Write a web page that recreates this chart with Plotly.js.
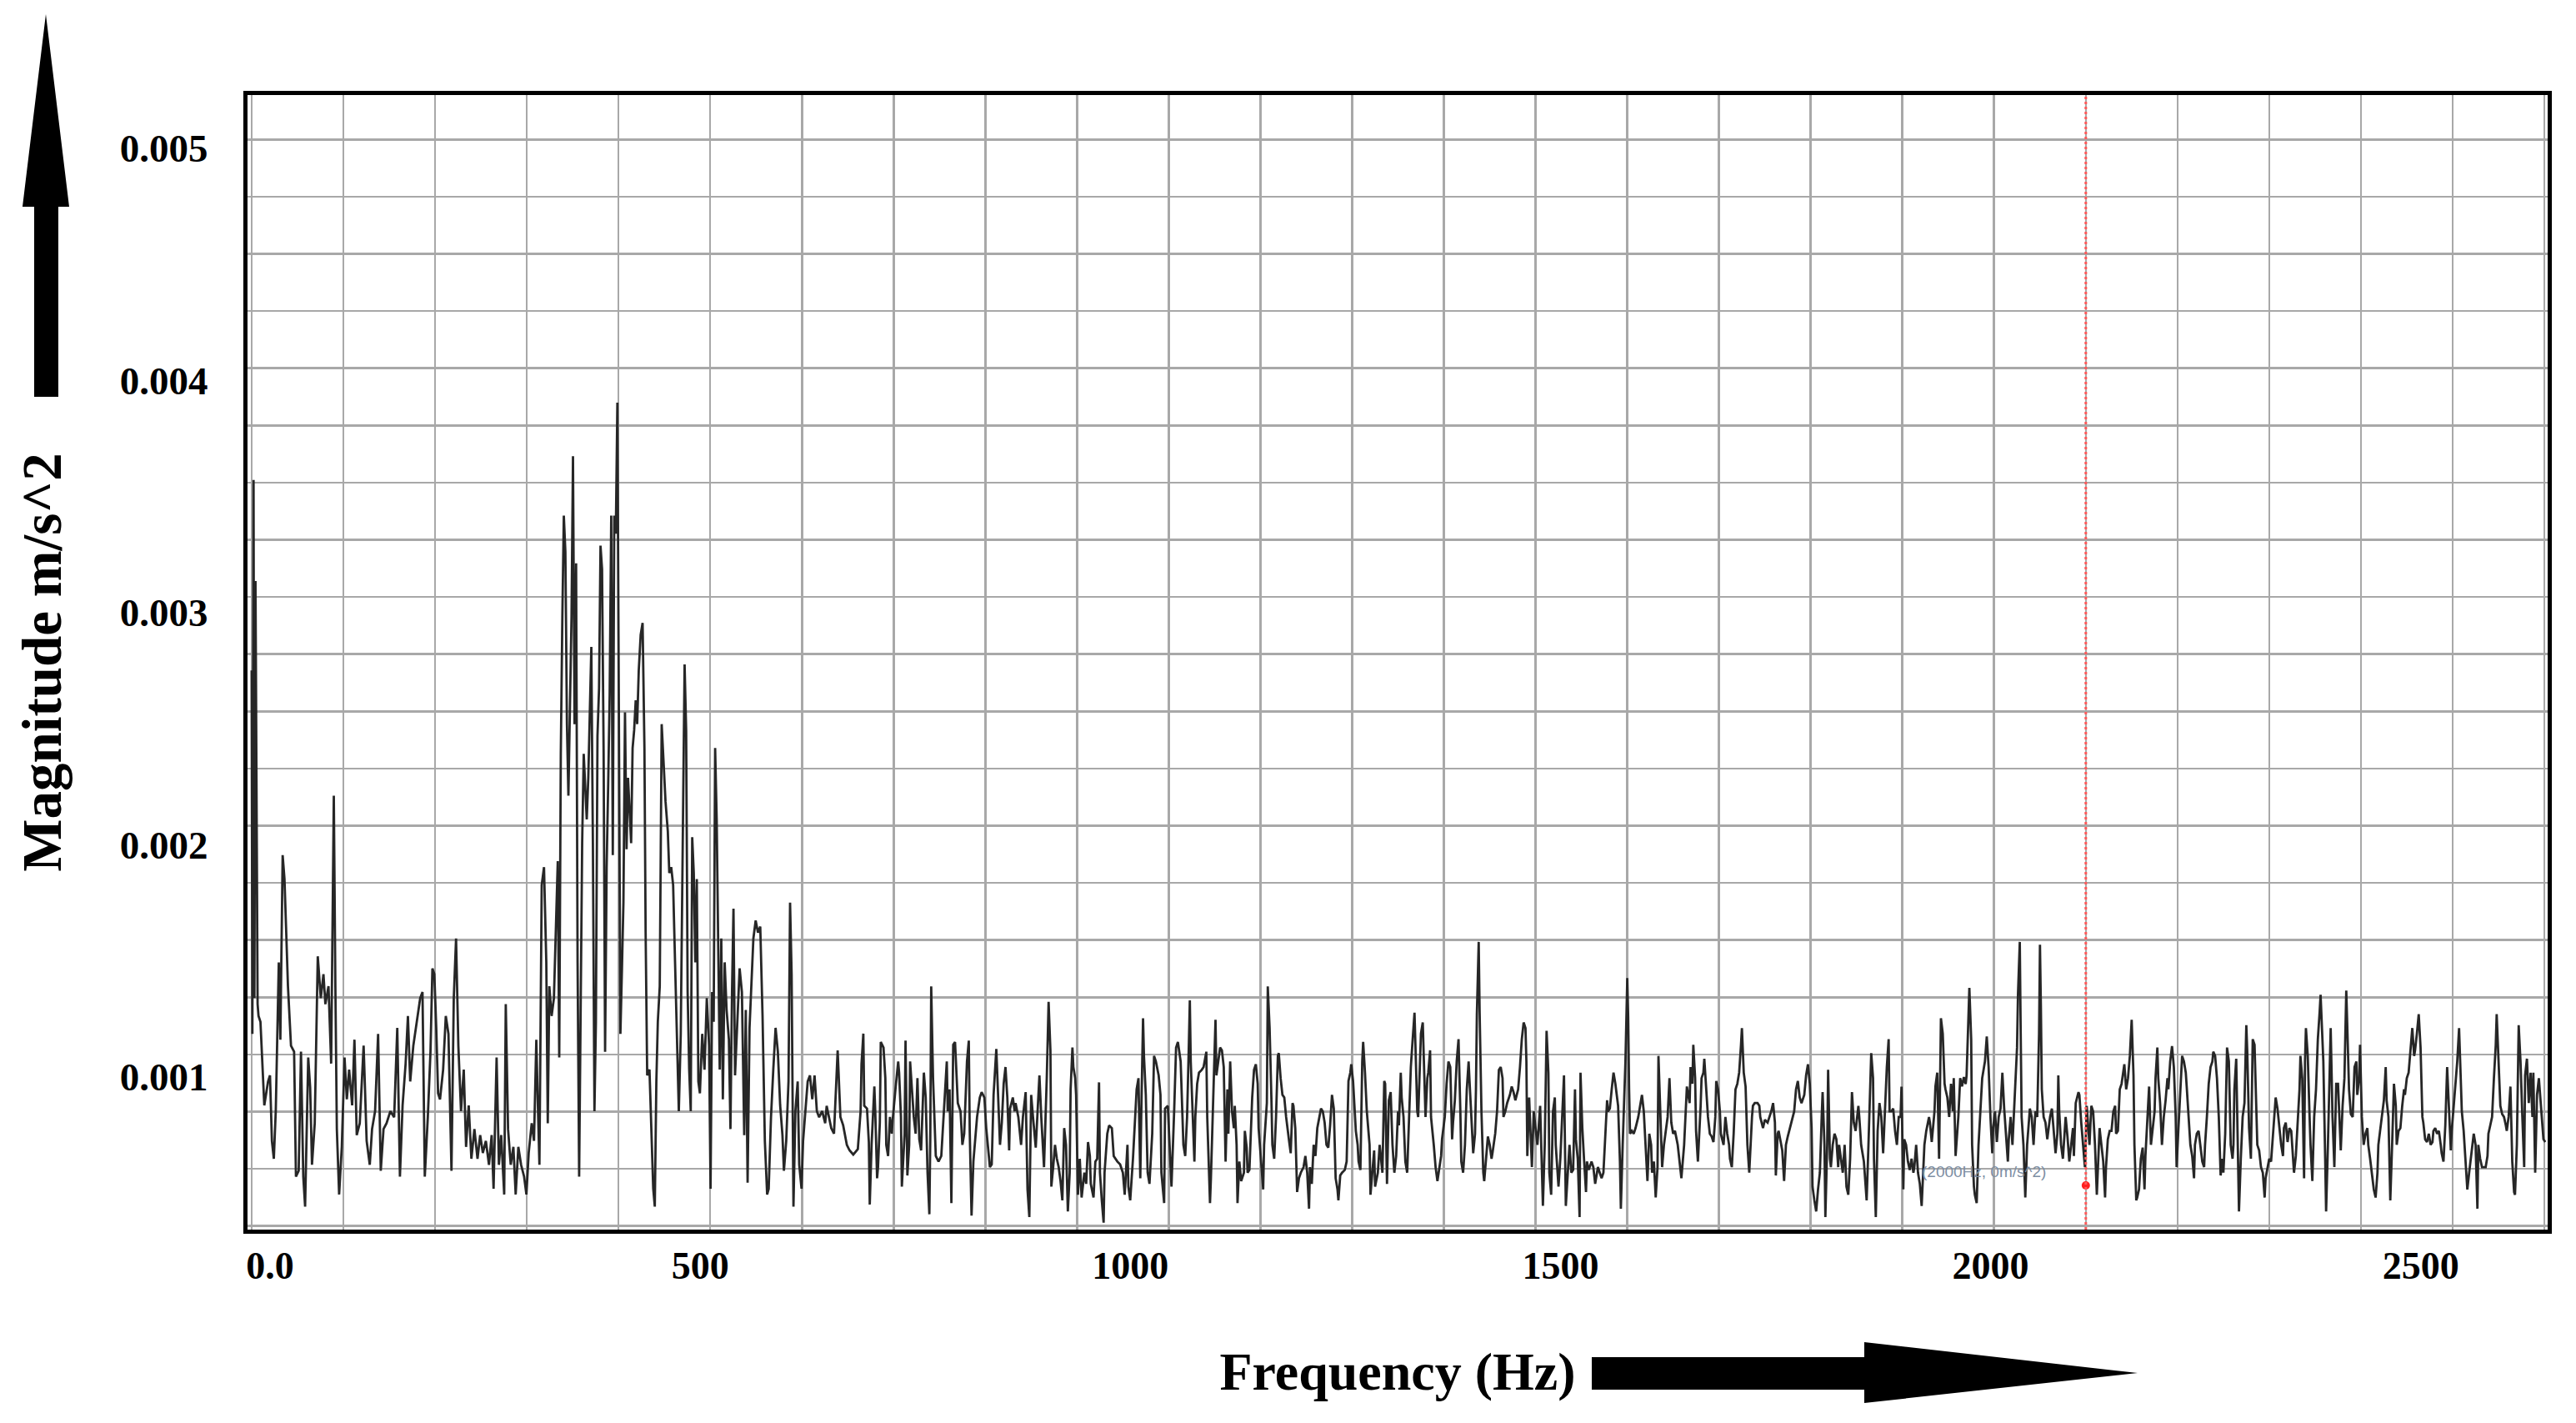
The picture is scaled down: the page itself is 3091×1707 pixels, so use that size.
<!DOCTYPE html>
<html><head><meta charset="utf-8">
<script src="https://cdn.plot.ly/plotly-3.0.1.min.js"></script>
<style>html,body{margin:0;padding:0;background:#fff}</style>
</head><body><div id="chart" style="width:3091px;height:1707px"></div>
<script>
// [frequency Hz, magnitude m/s^2]
const band0to625 = [[0,0.002751],[0.8,0.001186],[2.1,0.003572],[3.0,0.001340],[4.2,0.003136],[5.4,0.002289],[6.5,0.001314],[7.5,0.001263],[9.6,0.001238],[13.8,0.000878],[17.9,0.000981],[20.0,0.001007],[22.1,0.000725],[24.2,0.000648],[26.3,0.000853],[29.6,0.001494],[31.3,0.001161],[33.8,0.001956],[35.8,0.001853],[37.5,0.001648],[39.6,0.001391],[42.9,0.001135],[46.3,0.001109],[48.3,0.000571],[51.3,0.000596],[53.8,0.001109],[56.3,0.000571],[58.3,0.000442],[61.7,0.001084],[63.8,0.000955],[65.8,0.000622],[68.8,0.000801],[72.1,0.001520],[75.4,0.001340],[78.3,0.001443],[80.4,0.001314],[83.8,0.001391],[86.7,0.001058],[89.6,0.002212],[91.3,0.001391],[92.9,0.000776],[95.4,0.000494],[98.3,0.000699],[101.3,0.001084],[103.8,0.000904],[106.3,0.001032],[109.6,0.000878],[112.1,0.001161],[114.6,0.000750],[117.9,0.000801],[122.1,0.001135],[125.4,0.000725],[128.8,0.000622],[131.3,0.000776],[134.6,0.000853],[137.9,0.001186],[140.8,0.000596],[143.8,0.000776],[147.1,0.000801],[151.3,0.000853],[155.4,0.000827],[158.8,0.001212],[161.7,0.000571],[164.6,0.000878],[167.9,0.001058],[170.4,0.001263],[172.9,0.000981],[176.3,0.001135],[180.4,0.001238],[183.8,0.001340],[186.3,0.001366],[188.8,0.000571],[192.1,0.000827],[195.0,0.001109],[197.1,0.001468],[199.2,0.001443],[201.3,0.001212],[203.3,0.000930],[205.4,0.000904],[208.8,0.001032],[211.7,0.001263],[214.6,0.001186],[217.9,0.000596],[220.4,0.001340],[222.9,0.001597],[225.4,0.001135],[228.3,0.000853],[231.3,0.001032],[233.8,0.000699],[236.7,0.000878],[239.6,0.000648],[242.9,0.000776],[246.3,0.000648],[249.2,0.000750],[252.1,0.000673],[255.4,0.000725],[258.8,0.000622],[261.7,0.000750],[263.8,0.000519],[267.1,0.001084],[269.6,0.000622],[272.1,0.000750],[275.4,0.000494],[277.1,0.001314],[279.6,0.000776],[282.5,0.000622],[285.4,0.000699],[287.9,0.000494],[290.8,0.000699],[293.8,0.000622],[297.1,0.000571],[299.6,0.000494],[302.1,0.000673],[305.4,0.000801],[307.9,0.000725],[310.4,0.001161],[312.1,0.000878],[313.8,0.000622],[316.3,0.001827],[318.8,0.001904],[321.3,0.001494],[322.9,0.000801],[324.6,0.001391],[327.1,0.001263],[329.6,0.001340],[332.1,0.001699],[333.8,0.001930],[335.4,0.001084],[337.1,0.002392],[338.8,0.002982],[340.4,0.003418],[342.1,0.003264],[343.8,0.002520],[345.4,0.002212],[347.1,0.002648],[348.8,0.002982],[350.4,0.003674],[352.1,0.002520],[353.8,0.003213],[355.4,0.001494],[357.1,0.000571],[358.8,0.001238],[360.4,0.002007],[362.1,0.002392],[363.8,0.002264],[365.4,0.002110],[367.1,0.002289],[368.8,0.002623],[370.4,0.002853],[372.1,0.002007],[373.8,0.000853],[375.4,0.001238],[377.1,0.002469],[378.8,0.002674],[380.4,0.003289],[382.1,0.003187],[383.8,0.002392],[385.4,0.001109],[387.1,0.001904],[388.8,0.002264],[390.4,0.002648],[392.1,0.003418],[393.8,0.001956],[395.4,0.003418],[397.1,0.003341],[398.8,0.003905],[400.4,0.002264],[402.1,0.001186],[403.8,0.001468],[405.4,0.001751],[407.1,0.002571],[408.8,0.001981],[410.4,0.002289],[412.1,0.002135],[413.8,0.002007],[415.4,0.002417],[417.1,0.002494],[418.8,0.002623],[420.4,0.002520],[422.1,0.002751],[424.2,0.002905],[426.3,0.002956],[428.3,0.002417],[429.6,0.001622],[431.3,0.001007],[433.8,0.001032],[436.3,0.000699],[437.9,0.000519],[439.6,0.000442],[441.3,0.000981],[442.9,0.001238],[445.0,0.001391],[447.1,0.002520],[449.2,0.002366],[451.3,0.002187],[453.8,0.002058],[455.4,0.001879],[457.5,0.001904],[459.6,0.001827],[461.7,0.001494],[463.8,0.001109],[465.8,0.000853],[467.9,0.001186],[470.0,0.001930],[472.1,0.002777],[473.8,0.002494],[475.4,0.001366],[477.1,0.001032],[478.8,0.000853],[480.4,0.002033],[482.1,0.001879],[483.8,0.001494],[485.4,0.001853],[487.1,0.000981],[488.8,0.000930],[491.3,0.001186],[493.8,0.001032],[496.3,0.001340],[498.8,0.001135],[500.4,0.000519],[502.1,0.001366],[503.8,0.001238],[505.4,0.002417],[507.1,0.002110],[508.8,0.001545],[510.4,0.001032],[512.1,0.001597],[513.8,0.000904],[515.8,0.001494],[517.9,0.001289],[520.4,0.001161],[522.1,0.000776],[523.8,0.001366],[525.4,0.001725],[527.1,0.001007],[529.6,0.001238],[532.1,0.001468],[534.6,0.001366],[537.1,0.000750],[538.8,0.001289],[540.8,0.000545],[542.9,0.001212],[545.0,0.001391],[547.1,0.001597],[549.6,0.001674],[552.1,0.001622],[554.6,0.001648],[557.1,0.001263],[559.6,0.000725],[562.1,0.000494],[563.8,0.000519],[566.3,0.000827],[568.8,0.001032],[571.3,0.001212],[573.8,0.001109],[576.3,0.000878],[578.8,0.000750],[580.4,0.000596],[582.9,0.000725],[585.4,0.000981],[587.1,0.001751],[588.8,0.001443],[590.8,0.000442],[592.9,0.000853],[595.4,0.000981],[597.1,0.000622],[599.6,0.000519],[601.3,0.000725],[603.8,0.000853],[606.3,0.000981],[608.8,0.001007],[611.3,0.000904],[613.8,0.001007],[616.3,0.000853],[618.8,0.000827],[622.1,0.000853],[625.4,0.000801]];

const band627to1010 = [[627,0.000876],[632,0.000780],[635,0.000756],[639,0.001115],[640,0.001019],[642,0.000828],[645,0.000792],[649,0.000708],[652,0.000684],[656,0.000666],[661,0.000690],[664,0.000852],[665,0.001055],[667,0.001187],[668,0.000876],[671,0.000864],[673,0.000720],[674,0.000451],[676,0.000708],[679,0.000959],[680,0.000852],[682,0.000564],[683,0.000612],[685,0.000804],[686,0.001151],[689,0.001127],[691,0.000995],[692,0.000708],[694,0.000660],[696,0.000828],[698,0.000756],[699,0.000816],[702,0.000947],[705,0.001067],[706,0.001019],[708,0.000828],[709,0.000528],[712,0.000756],[713,0.001157],[715,0.000576],[717,0.000708],[718,0.001067],[720,0.000947],[722,0.000828],[724,0.000756],[726,0.000995],[728,0.000732],[730,0.000684],[733,0.001019],[735,0.000912],[737,0.000588],[739,0.000409],[740,0.000732],[741,0.001390],[743,0.000995],[746,0.000660],[749,0.000636],[752,0.000660],[755,0.000864],[758,0.001067],[759,0.000852],[761,0.000947],[763,0.000457],[765,0.001139],[767,0.001151],[768,0.001067],[770,0.000888],[773,0.000852],[775,0.000708],[777,0.000756],[780,0.001067],[782,0.001157],[783,0.000768],[785,0.000403],[787,0.000636],[791,0.000828],[794,0.000912],[796,0.000935],[799,0.000912],[801,0.000780],[803,0.000696],[805,0.000612],[807,0.000624],[809,0.000923],[812,0.001121],[814,0.000876],[816,0.000708],[818,0.000804],[820,0.000971],[822,0.001043],[824,0.000912],[826,0.000684],[827,0.000864],[830,0.000912],[832,0.000852],[833,0.000888],[836,0.000828],[839,0.000708],[841,0.000828],[844,0.000935],[846,0.000516],[848,0.000397],[850,0.000923],[852,0.000828],[855,0.000696],[857,0.000852],[859,0.001007],[861,0.000828],[864,0.000612],[867,0.000995],[869,0.001324],[871,0.001115],[872,0.000528],[874,0.000612],[876,0.000708],[878,0.000648],[880,0.000612],[882,0.000552],[884,0.000469],[886,0.000780],[888,0.000708],[890,0.000421],[892,0.000588],[893,0.000947],[895,0.001127],[896,0.001043],[898,0.000995],[899,0.000923],[901,0.000493],[903,0.000648],[905,0.000481],[908,0.000588],[910,0.000540],[912,0.000720],[914,0.000660],[915,0.000540],[918,0.000481],[920,0.000636],[922,0.000648],[924,0.000977],[925,0.000588],[927,0.000469],[929,0.000373],[930,0.000588],[933,0.000756],[935,0.000792],[938,0.000780],[940,0.000660],[944,0.000636],[947,0.000624],[950,0.000588],[952,0.000493],[955,0.000708],[956,0.000528],[958,0.000469],[961,0.000648],[963,0.000828],[965,0.000947],[967,0.000995],[969,0.000564],[970,0.000828],[972,0.001253],[973,0.001091],[975,0.000923],[977,0.000588],[979,0.000540],[982,0.000756],[984,0.001091],[986,0.001067],[989,0.001007],[991,0.000923],[992,0.000588],[995,0.000457],[996,0.000864],[999,0.000876],[1001,0.000708],[1003,0.000528],[1006,0.000864],[1008,0.001127],[1010,0.001151]];

const band1013to1393 = [[1013,0.001067],[1015,0.000828],[1016,0.000708],[1018,0.000660],[1020,0.000828],[1022,0.001151],[1023,0.001330],[1024,0.001067],[1026,0.000864],[1028,0.000636],[1029,0.000828],[1031,0.000971],[1033,0.001019],[1036,0.001031],[1038,0.001043],[1041,0.001109],[1042,0.000828],[1044,0.000588],[1045,0.000457],[1046,0.000564],[1048,0.000828],[1050,0.001067],[1051,0.001247],[1052,0.001007],[1054,0.001067],[1056,0.001127],[1058,0.001115],[1060,0.001043],[1062,0.000636],[1064,0.000947],[1065,0.000756],[1067,0.001067],[1069,0.000852],[1071,0.000780],[1072,0.000876],[1074,0.000708],[1075,0.000457],[1077,0.000636],[1079,0.000552],[1082,0.000588],[1083,0.000768],[1085,0.000696],[1086,0.000588],[1088,0.000600],[1091,0.000912],[1093,0.001031],[1095,0.001055],[1097,0.000971],[1098,0.000780],[1101,0.000636],[1103,0.000516],[1104,0.000708],[1107,0.000888],[1108,0.001390],[1110,0.001211],[1112,0.000900],[1113,0.000708],[1115,0.000648],[1117,0.000828],[1119,0.001091],[1120,0.001103],[1122,0.000995],[1124,0.000923],[1126,0.000912],[1128,0.000828],[1131,0.000732],[1133,0.000672],[1135,0.000888],[1136,0.000876],[1138,0.000780],[1140,0.000505],[1142,0.000564],[1144,0.000588],[1147,0.000612],[1149,0.000660],[1151,0.000588],[1153,0.000433],[1154,0.000612],[1156,0.000540],[1158,0.000708],[1160,0.000660],[1162,0.000780],[1164,0.000828],[1166,0.000864],[1168,0.000852],[1170,0.000804],[1172,0.000708],[1174,0.000696],[1176,0.000792],[1178,0.000923],[1180,0.000864],[1182,0.000564],[1184,0.000516],[1185,0.000469],[1187,0.000576],[1189,0.000588],[1192,0.000600],[1194,0.000636],[1196,0.000983],[1198,0.001019],[1199,0.001055],[1201,0.000983],[1204,0.000768],[1206,0.000708],[1207,0.000636],[1209,0.000600],[1211,0.001067],[1212,0.001151],[1214,0.001019],[1216,0.000852],[1219,0.000708],[1220,0.000493],[1222,0.000588],[1224,0.000684],[1225,0.000528],[1228,0.000588],[1230,0.000708],[1233,0.000588],[1235,0.000983],[1236,0.000971],[1238,0.000540],[1240,0.000900],[1242,0.000935],[1244,0.000708],[1246,0.000588],[1248,0.000660],[1250,0.000852],[1251,0.000792],[1253,0.001019],[1254,0.000912],[1256,0.000828],[1258,0.000636],[1260,0.000588],[1262,0.000828],[1264,0.001043],[1266,0.001163],[1268,0.001277],[1269,0.001139],[1271,0.000852],[1272,0.000828],[1274,0.001043],[1275,0.001187],[1277,0.001235],[1278,0.001115],[1280,0.000828],[1282,0.000995],[1283,0.001019],[1285,0.001115],[1286,0.000828],[1289,0.000708],[1291,0.000612],[1293,0.000552],[1295,0.000600],[1297,0.000660],[1298,0.000732],[1301,0.000828],[1303,0.000971],[1305,0.001067],[1307,0.001043],[1309,0.000732],[1310,0.000804],[1312,0.000900],[1314,0.001067],[1316,0.001163],[1318,0.000852],[1319,0.000636],[1321,0.000588],[1323,0.000708],[1325,0.000947],[1327,0.001067],[1328,0.000983],[1330,0.000828],[1332,0.000672],[1334,0.000756],[1335,0.000947],[1336,0.001271],[1338,0.001582],[1339,0.001283],[1341,0.000852],[1343,0.000588],[1344,0.000552],[1346,0.000648],[1348,0.000744],[1350,0.000708],[1352,0.000648],[1353,0.000672],[1356,0.000756],[1358,0.000852],[1360,0.001031],[1362,0.001043],[1364,0.000995],[1365,0.000828],[1367,0.000852],[1369,0.000888],[1372,0.000923],[1374,0.000959],[1376,0.000935],[1378,0.000900],[1381,0.000947],[1383,0.001043],[1385,0.001163],[1387,0.001235],[1389,0.001211],[1390,0.001067],[1391,0.000660],[1393,0.000912]];

const band1395to1777 = [[1395,0.000708],[1396,0.000612],[1398,0.000852],[1400,0.000780],[1402,0.000708],[1405,0.000876],[1407,0.000552],[1408,0.000445],[1410,0.000708],[1411,0.001007],[1412,0.001199],[1414,0.001019],[1415,0.000588],[1417,0.000493],[1419,0.000852],[1421,0.000912],[1422,0.000708],[1424,0.000588],[1425,0.000528],[1427,0.000648],[1429,0.000828],[1431,0.001007],[1433,0.000445],[1435,0.000588],[1437,0.000708],[1439,0.000588],[1441,0.000600],[1443,0.000947],[1444,0.000732],[1446,0.000648],[1448,0.000397],[1449,0.001019],[1451,0.000780],[1453,0.000636],[1455,0.000505],[1456,0.000636],[1458,0.000600],[1461,0.000636],[1463,0.000612],[1465,0.000540],[1468,0.000612],[1470,0.000588],[1472,0.000564],[1474,0.000588],[1476,0.000768],[1478,0.000900],[1479,0.000852],[1481,0.000864],[1483,0.000947],[1485,0.001019],[1487,0.000971],[1490,0.000876],[1492,0.000636],[1493,0.000433],[1495,0.000708],[1497,0.000912],[1498,0.001067],[1500,0.001426],[1501,0.001259],[1502,0.000947],[1503,0.000756],[1505,0.000768],[1507,0.000756],[1509,0.000780],[1512,0.000828],[1514,0.000876],[1516,0.000923],[1518,0.000852],[1520,0.000708],[1522,0.000552],[1524,0.000756],[1526,0.000708],[1527,0.000588],[1529,0.000636],[1531,0.000481],[1533,0.000612],[1534,0.001091],[1536,0.000828],[1538,0.000612],[1540,0.000708],[1542,0.000768],[1544,0.000828],[1546,0.000995],[1547,0.000923],[1548,0.000804],[1550,0.000756],[1552,0.000768],[1555,0.000708],[1557,0.000636],[1559,0.000564],[1562,0.000708],[1564,0.000852],[1565,0.000959],[1568,0.000888],[1569,0.001043],[1571,0.000971],[1572,0.001139],[1574,0.000995],[1575,0.000768],[1577,0.000636],[1578,0.000708],[1580,0.000876],[1581,0.000995],[1583,0.001019],[1584,0.001079],[1586,0.000947],[1588,0.000828],[1590,0.000756],[1592,0.000744],[1594,0.000720],[1596,0.000828],[1597,0.000983],[1599,0.000947],[1601,0.000852],[1602,0.000756],[1605,0.000708],[1607,0.000828],[1609,0.000756],[1611,0.000708],[1612,0.000648],[1614,0.000612],[1616,0.000756],[1618,0.000947],[1620,0.000971],[1622,0.001019],[1624,0.001139],[1625,0.001211],[1627,0.001019],[1629,0.000959],[1631,0.000708],[1633,0.000588],[1636,0.000828],[1637,0.000876],[1639,0.000888],[1642,0.000888],[1644,0.000876],[1645,0.000828],[1648,0.000780],[1650,0.000816],[1653,0.000804],[1655,0.000828],[1657,0.000852],[1659,0.000888],[1661,0.000804],[1662,0.000576],[1664,0.000756],[1665,0.000768],[1667,0.000720],[1669,0.000684],[1671,0.000552],[1673,0.000708],[1675,0.000744],[1678,0.000792],[1680,0.000828],[1682,0.000852],[1684,0.000947],[1686,0.000983],[1688,0.000912],[1690,0.000888],[1693,0.000923],[1695,0.001007],[1697,0.001055],[1699,0.000971],[1701,0.000780],[1702,0.000528],[1704,0.000469],[1706,0.000421],[1708,0.000516],[1710,0.000588],[1712,0.000828],[1713,0.000935],[1715,0.000708],[1716,0.000397],[1718,0.000708],[1719,0.001031],[1721,0.000648],[1722,0.000612],[1724,0.000708],[1726,0.000756],[1728,0.000732],[1730,0.000612],[1731,0.000708],[1733,0.000636],[1735,0.000588],[1737,0.000708],[1739,0.000528],[1741,0.000493],[1743,0.000648],[1745,0.000935],[1747,0.000804],[1749,0.000768],[1752,0.000876],[1753,0.000828],[1755,0.000708],[1758,0.000636],[1759,0.000588],[1761,0.000469],[1763,0.000708],[1765,0.000995],[1766,0.001103],[1768,0.000995],[1769,0.000648],[1771,0.000397],[1773,0.000768],[1775,0.000888],[1777,0.000828]];

const band1779to2160 = [[1779,0.000672],[1781,0.000888],[1783,0.001043],[1785,0.001163],[1786,0.000852],[1788,0.000852],[1790,0.000864],[1792,0.000768],[1794,0.000708],[1796,0.000828],[1798,0.000828],[1799,0.000959],[1801,0.000516],[1802,0.000732],[1804,0.000708],[1806,0.000636],[1808,0.000600],[1810,0.000648],[1812,0.000588],[1813,0.000612],[1815,0.000708],[1817,0.000588],[1819,0.000540],[1821,0.000445],[1822,0.000552],[1824,0.000708],[1826,0.000768],[1829,0.000828],[1830,0.000804],[1832,0.000720],[1835,0.000852],[1836,0.000959],[1838,0.001019],[1840,0.000648],[1841,0.000947],[1842,0.001253],[1844,0.001187],[1846,0.000971],[1847,0.000947],[1849,0.000912],[1851,0.000828],[1853,0.000971],[1855,0.000852],[1856,0.000995],[1858,0.000660],[1860,0.000768],[1861,0.000828],[1863,0.000995],[1865,0.000960],[1867,0.001000],[1869,0.000970],[1870,0.001007],[1872,0.001283],[1873,0.001384],[1875,0.001163],[1876,0.000708],[1878,0.000528],[1879,0.000493],[1881,0.000457],[1883,0.000708],[1885,0.000852],[1887,0.000995],[1889,0.001043],[1890,0.001067],[1892,0.001175],[1894,0.001043],[1896,0.000828],[1898,0.000672],[1899,0.000780],[1901,0.000852],[1903,0.000720],[1905,0.000828],[1907,0.000864],[1909,0.001019],[1911,0.000864],[1913,0.000756],[1915,0.000636],[1916,0.000732],[1918,0.000828],[1920,0.000708],[1922,0.000888],[1923,0.000971],[1925,0.001127],[1926,0.001354],[1928,0.001582],[1929,0.001187],[1930,0.000828],[1932,0.000708],[1934,0.000481],[1936,0.000708],[1938,0.000828],[1939,0.000864],[1941,0.000828],[1943,0.000708],[1945,0.000852],[1947,0.000828],[1949,0.001187],[1950,0.001570],[1951,0.001306],[1952,0.000947],[1954,0.000828],[1956,0.000804],[1958,0.000732],[1959,0.000768],[1961,0.000828],[1963,0.000864],[1965,0.000780],[1967,0.000672],[1969,0.000756],[1970,0.001007],[1971,0.000852],[1973,0.000708],[1975,0.000648],[1976,0.000720],[1978,0.000828],[1980,0.000744],[1982,0.000636],[1984,0.000708],[1986,0.000780],[1987,0.000660],[1989,0.000888],[1992,0.000935],[1993,0.000923],[1995,0.000804],[1997,0.000708],[1999,0.000612],[2001,0.000876],[2002,0.000828],[2004,0.000708],[2006,0.000876],[2008,0.000852],[2010,0.000708],[2012,0.000493],[2013,0.000588],[2015,0.000780],[2017,0.000708],[2019,0.000636],[2021,0.000481],[2022,0.000612],[2024,0.000732],[2026,0.000768],[2028,0.000768],[2030,0.000852],[2032,0.000876],[2033,0.000756],[2035,0.000768],[2037,0.000947],[2039,0.000971],[2041,0.001043],[2042,0.001055],[2044,0.000947],[2046,0.000995],[2048,0.001091],[2050,0.001247],[2052,0.001007],[2053,0.000708],[2055,0.000469],[2056,0.000481],[2058,0.000516],[2060,0.000648],[2062,0.000696],[2064,0.000516],[2065,0.000660],[2067,0.000828],[2069,0.000959],[2071,0.000708],[2073,0.000792],[2075,0.000852],[2076,0.000995],[2078,0.001127],[2079,0.000995],[2081,0.000888],[2083,0.000708],[2085,0.000828],[2087,0.000900],[2089,0.000995],[2090,0.000947],[2092,0.001067],[2094,0.001133],[2096,0.001043],[2098,0.000828],[2099,0.000612],[2101,0.000780],[2103,0.000947],[2105,0.001091],[2107,0.001067],[2109,0.001019],[2110,0.000959],[2112,0.000828],[2114,0.000708],[2116,0.000660],[2118,0.000564],[2119,0.000708],[2121,0.000756],[2123,0.000768],[2125,0.000708],[2127,0.000636],[2129,0.000612],[2130,0.000708],[2132,0.000828],[2134,0.000971],[2136,0.001043],[2138,0.001067],[2139,0.001109],[2141,0.001091],[2143,0.000995],[2145,0.000828],[2147,0.000576],[2149,0.000648],[2150,0.000588],[2152,0.000756],[2154,0.001127],[2156,0.001067],[2158,0.000708],[2160,0.000648]];

const band2161to2501 = [[2161,0.000708],[2162,0.000947],[2164,0.001079],[2166,0.000708],[2167,0.000421],[2169,0.000648],[2171,0.000828],[2173,0.000888],[2175,0.001223],[2176,0.001115],[2178,0.000780],[2180,0.000648],[2182,0.001163],[2184,0.001139],[2185,0.001019],[2187,0.000708],[2189,0.000684],[2191,0.000612],[2193,0.000588],[2195,0.000481],[2196,0.000564],[2198,0.000600],[2200,0.000648],[2202,0.000636],[2204,0.000756],[2205,0.000828],[2207,0.000912],[2209,0.000864],[2211,0.000780],[2213,0.000708],[2215,0.000660],[2216,0.000780],[2218,0.000804],[2220,0.000720],[2222,0.000780],[2224,0.000768],[2225,0.000708],[2227,0.000588],[2229,0.000660],[2231,0.000828],[2233,0.000947],[2234,0.001091],[2236,0.000995],[2238,0.000564],[2239,0.001067],[2240,0.001211],[2242,0.001091],[2244,0.000828],[2245,0.000708],[2247,0.000552],[2249,0.000828],[2251,0.000947],[2253,0.001163],[2255,0.001283],[2256,0.001354],[2257,0.001259],[2259,0.001067],[2261,0.000648],[2262,0.000421],[2264,0.000708],[2266,0.000995],[2267,0.001211],[2269,0.000828],[2271,0.000612],[2273,0.000971],[2275,0.000971],[2276,0.000876],[2278,0.000684],[2280,0.000876],[2282,0.000995],[2283,0.001187],[2284,0.001372],[2285,0.001235],[2287,0.000947],[2289,0.000840],[2291,0.000828],[2293,0.001043],[2295,0.001067],[2296,0.000923],[2298,0.000995],[2299,0.001139],[2301,0.000828],[2303,0.000708],[2305,0.000756],[2307,0.000780],[2308,0.000708],[2310,0.000648],[2312,0.000588],[2314,0.000516],[2316,0.000481],[2318,0.000588],[2319,0.000708],[2321,0.000780],[2323,0.000828],[2325,0.000900],[2327,0.001043],[2328,0.000900],[2330,0.000828],[2332,0.000469],[2334,0.000708],[2336,0.000971],[2338,0.000876],[2339,0.000708],[2341,0.000768],[2343,0.000780],[2345,0.000876],[2347,0.000947],[2348,0.000923],[2350,0.000995],[2352,0.001019],[2354,0.001127],[2356,0.001211],[2358,0.001091],[2359,0.001115],[2361,0.001187],[2363,0.001271],[2365,0.001127],[2367,0.000828],[2368,0.000804],[2370,0.000732],[2372,0.000720],[2374,0.000756],[2376,0.000708],[2378,0.000720],[2379,0.000768],[2381,0.000780],[2383,0.000756],[2385,0.000768],[2387,0.000708],[2388,0.000672],[2390,0.000636],[2392,0.000792],[2394,0.001043],[2396,0.000876],[2398,0.000684],[2399,0.000768],[2401,0.000864],[2403,0.000971],[2405,0.001067],[2407,0.001211],[2408,0.001067],[2410,0.000852],[2412,0.000768],[2414,0.000636],[2416,0.000516],[2418,0.000588],[2419,0.000624],[2421,0.000708],[2423,0.000756],[2425,0.000708],[2427,0.000433],[2428,0.000708],[2430,0.000648],[2432,0.000612],[2434,0.000612],[2436,0.000612],[2438,0.000660],[2439,0.000756],[2441,0.000792],[2443,0.000828],[2445,0.000995],[2447,0.001139],[2448,0.001271],[2450,0.001067],[2452,0.000876],[2454,0.000840],[2456,0.000828],[2458,0.000792],[2459,0.000768],[2461,0.000828],[2463,0.000959],[2465,0.000636],[2467,0.000505],[2468,0.000493],[2470,0.000708],[2472,0.001223],[2474,0.001067],[2476,0.000828],[2478,0.000612],[2479,0.001007],[2481,0.001079],[2483,0.000888],[2485,0.001019],[2487,0.000828],[2488,0.001019],[2490,0.000588],[2492,0.000923],[2494,0.000995],[2496,0.000876],[2498,0.000768],[2499,0.000732],[2501,0.000720]];

const xTickValues = [0, 500, 1000, 1500, 2000, 2500];
const xTickLabels = ['0.0', '500', '1000', '1500', '2000', '2500'];
const yTickValues = [0.001, 0.002, 0.003, 0.004, 0.005];
const yTickLabels = ['0.001', '0.002', '0.003', '0.004', '0.005'];
const cursorFreq = [2000];
const cursorMag = [0.000533];
const cursorLabel = '(2000Hz, 0m/s^2)';

const spectrum = band0to625.concat(band627to1010, band1013to1393, band1395to1777, band1779to2160, band2161to2501);
const freqHz = spectrum.map(p => p[0]);
const magnitude = spectrum.map(p => p[1]);

const serif = 'Liberation Serif, Times New Roman, serif';

const traces = [
  {
    type: 'scatter', mode: 'lines', x: freqHz, y: magnitude,
    line: {color: '#262626', width: 2.8},
    hoverinfo: 'x+y', showlegend: false
  },
  {
    type: 'scatter', mode: 'markers', x: cursorFreq, y: cursorMag,
    marker: {color: '#ff2020', size: 10},
    hoverinfo: 'skip', showlegend: false
  },
  {
    type: 'scatter', mode: 'lines', x: [], y: [], xaxis: 'x2', yaxis: 'y2',
    hoverinfo: 'skip', showlegend: false
  }
];

const layout = {
  width: 3091, height: 1707,
  margin: {l: 297, r: 34, t: 114, b: 232, pad: 0},
  paper_bgcolor: '#ffffff', plot_bgcolor: '#ffffff',
  showlegend: false,
  xaxis: {
    range: [-4.5, 2503.6], autorange: false,
    showgrid: true, gridcolor: '#a8a8a8', gridwidth: 2.6, dtick: 100, tick0: 0,
    showticklabels: false, ticks: '', zeroline: false,
    showline: true, mirror: true, linecolor: '#000000', linewidth: 5,
    automargin: true,
    title: {text: 'Frequency (Hz)', standoff: 145,
            font: {family: serif, size: 64, color: '#000000', weight: 'bold'}}
  },
  xaxis2: {
    overlaying: 'x', anchor: 'y', side: 'bottom',
    range: [-26.16, 2647.5], autorange: false,
    tickmode: 'array', tickvals: xTickValues, ticktext: xTickLabels,
    showgrid: false, zeroline: false, showline: false, ticks: '',
    ticklabelstandoff: 12,
    tickfont: {family: serif, size: 46, color: '#000000', weight: 'bold'}
  },
  yaxis: {
    range: [0.0003429, 0.0052298], autorange: false,
    tickmode: 'array', tickvals: yTickValues, ticktext: yTickLabels,
    showgrid: false, zeroline: false, ticks: '',
    showline: true, mirror: true, linecolor: '#000000', linewidth: 5,
    ticklabelstandoff: 33,
    tickfont: {family: serif, size: 47, color: '#000000', weight: 'bold'},
    automargin: true,
    title: {text: 'Magnitude m/s^2', standoff: 50,
            font: {family: serif, size: 67, color: '#000000', weight: 'bold'}}
  },
  yaxis2: {
    overlaying: 'y', anchor: 'x', side: 'left',
    range: [-1.0641, 18.776], autorange: false,
    dtick: 1, tick0: 0, showgrid: true, gridcolor: '#a8a8a8', gridwidth: 2.6,
    showticklabels: false, zeroline: false, showline: false, ticks: ''
  },
  shapes: [
    {type: 'line', xref: 'x', yref: 'paper', x0: cursorFreq[0], x1: cursorFreq[0], y0: 0, y1: 1,
     line: {color: '#ff5a5a', width: 3, dash: 'dot'}, layer: 'above'},
    {type: 'path', xref: 'paper', yref: 'paper', fillcolor: '#000000', line: {width: 0},
     path: 'M -0.09275,0.73402 L -0.09275,0.90154 L -0.09783,0.90154 L -0.08768,1.07127 L -0.07754,0.90154 L -0.08225,0.90154 L -0.08225,0.73402 Z'},
    {type: 'path', xref: 'paper', yref: 'paper', fillcolor: '#000000', line: {width: 0},
     path: 'M 0.58442,-0.11242 L 0.70290,-0.11242 L 0.70290,-0.09919 L 0.82174,-0.12638 L 0.70290,-0.15283 L 0.70290,-0.14107 L 0.58442,-0.14107 Z'}
  ],
  annotations: [
    {xref: 'x', yref: 'y', x: 1889, y: 0.000594, text: cursorLabel, showarrow: false,
     font: {family: 'Liberation Sans, Arial, sans-serif', size: 19, color: '#7d8ea3'}}
  ]
};

Plotly.newPlot('chart', traces, layout, {displayModeBar: false, staticPlot: true});
</script>
</body></html>
